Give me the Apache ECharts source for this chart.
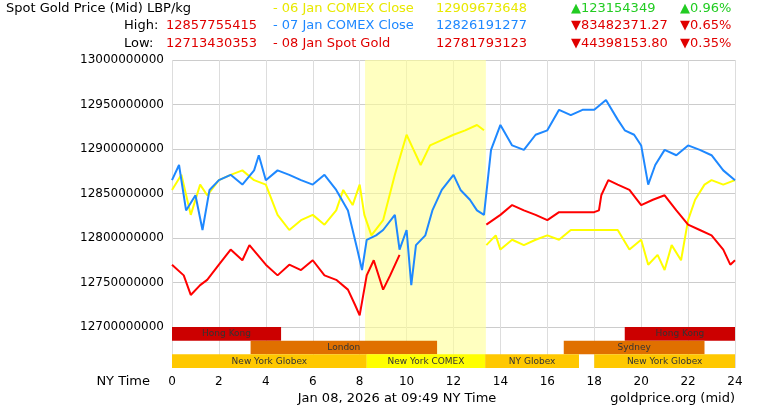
<!DOCTYPE html>
<html><head><meta charset="utf-8">
<script src="https://cdn.jsdelivr.net/npm/echarts@6/dist/echarts.min.js"></script>
<style>html,body{margin:0;padding:0;background:#fff}#c{width:770px;height:410px}</style>
</head><body><div id="c"></div>
<script>
const yTicks=[12700000000,12750000000,12800000000,12850000000,12900000000,12950000000,13000000000];
const xTicks=[0,2,4,6,8,10,12,14,16,18,20,22,24];
const yelT=[0,0.4,0.8,1.2,1.5,2,2.5,3,3.5,4,4.5,5,5.5,6,6.5,7,7.3,7.7,8,8.2,8.5,9,9.5,10,10.3,10.6,11,11.5,12,12.5,13,13.3,null,13.4,13.8,14,14.5,15,15.5,16,16.5,17,18,19,19.5,20,20.3,20.7,21,21.3,21.7,22,22.3,22.7,23,23.5,24];
const yelV=[12854,12871,12826,12860,12848,12865,12871,12876,12865,12860,12826,12809,12820,12826,12815,12831,12854,12837,12860,12826,12803,12820,12871,12916,12899,12882,12904,12910,12916,12921,12927,12921,null,12792,12803,12787,12798,12792,12798,12803,12798,12809,12809,12809,12787,12798,12770,12781,12764,12792,12775,12820,12843,12860,12865,12860,12865];
const bluT=[0,0.3,0.6,1,1.3,1.6,2,2.5,3,3.5,3.7,4,4.5,5,5.5,6,6.5,7,7.5,7.9,8.1,8.3,8.7,9,9.5,9.7,10,10.2,10.4,10.8,11.1,11.5,12,12.3,12.7,13,13.3,13.6,14,14.5,15,15.5,16,16.5,17,17.5,18,18.5,19,19.3,19.7,20,20.3,20.6,21,21.5,22,22.5,23,23.5,24];
const bluV=[12865,12882,12831,12848,12809,12854,12865,12871,12860,12876,12893,12865,12876,12871,12865,12860,12871,12854,12831,12787,12764,12798,12803,12809,12826,12787,12809,12747,12792,12803,12831,12854,12871,12854,12843,12831,12826,12899,12927,12904,12899,12916,12921,12944,12938,12944,12944,12955,12933,12921,12916,12904,12860,12882,12899,12893,12904,12899,12893,12876,12865];
const redT=[0,0.5,0.8,1.2,1.5,2,2.5,3,3.3,4,4.5,5,5.5,6,6.5,7,7.5,7.8,8,8.3,8.6,9,9.3,9.7,null,13.4,14,14.5,15,15.5,16,16.5,17,18,18.2,18.3,18.6,19,19.5,20,20.5,21,21.5,22,22.5,23,23.5,23.8,24];
const redV=[12770,12758,12736,12747,12753,12770,12787,12775,12792,12770,12758,12770,12764,12775,12758,12753,12742,12725,12713,12758,12775,12742,12758,12781,null,12815,12826,12837,12831,12826,12820,12829,12829,12829,12831,12848,12865,12860,12854,12837,12843,12848,12831,12815,12809,12803,12787,12770,12775];
const sessRows=['r3','r2','r1'];
const sessions=[
 {name:'Hong Kong',row:'r1',s:0,e:4.65,c:'#cc0000'},
 {name:'Hong Kong',row:'r1',s:19.3,e:24,c:'#cc0000'},
 {name:'London',row:'r2',s:3.35,e:11.3,c:'#e07000'},
 {name:'Sydney',row:'r2',s:16.7,e:22.7,c:'#e07000'},
 {name:'New York Globex',row:'r3',s:0,e:8.3,c:'#ffc800'},
 {name:'New York COMEX',row:'r3',s:8.3,e:13.35,c:'#ffff00'},
 {name:'NY Globex',row:'r3',s:13.35,e:17.35,c:'#ffc800'},
 {name:'New York Globex',row:'r3',s:18,e:24,c:'#ffc800'}];
const band=[8.23,13.38];
const zip=(t,v)=>t.map((x,i)=>x===null?'-':[x,v[i]*1e6]);
const F='DejaVu Sans';
const ch=echarts.init(document.getElementById('c'));
const txt=(x,y,s,c,al)=>({type:'text',x:x,y:y,style:{text:s,fill:c,font:'13px '+F,textAlign:al||'left',textVerticalAlign:'middle'}});
ch.setOption({
 animation:false,
 grid:[{left:172,right:35,top:60,height:267},{left:172,right:35,top:327,height:41}],
 xAxis:[{type:'value',min:0,max:24,interval:2,gridIndex:0,axisLabel:{show:false},axisTick:{show:false},axisLine:{show:false},splitLine:{lineStyle:{color:'#ddd'}}},
        {type:'value',min:0,max:24,interval:2,gridIndex:1,axisLabel:{color:'#000',fontFamily:F,fontSize:12,margin:8},axisTick:{show:false},axisLine:{show:false},splitLine:{lineStyle:{color:'#ddd'}}}],
 yAxis:[{type:'value',min:yTicks[0],max:yTicks[6],interval:50000000,gridIndex:0,axisLabel:{color:'#000',fontFamily:F,fontSize:12,margin:8,formatter:v=>String(v)},axisTick:{show:false},axisLine:{show:false},splitLine:{lineStyle:{color:'#ccc'}}},
        {type:'category',data:sessRows,gridIndex:1,show:false}],
 graphic:[txt(6,9,'Spot Gold Price (Mid) LBP/kg','#000'),
  txt(124,26,'High:','#000'),txt(166,26,'12857755415','#e00000'),
  txt(124,44,'Low:','#000'),txt(166,44,'12713430353','#e00000'),
  txt(273,9,'- 06 Jan COMEX Close','#e8e800'),txt(436,9,'12909673648','#e8e800'),txt(571,9,'▲123154349','#22cc22'),txt(680,9,'▲0.96%','#22cc22'),
  txt(273,26,'- 07 Jan COMEX Close','#1e88ff'),txt(436,26,'12826191277','#1e88ff'),txt(571,26,'▼83482371.27','#e00000'),txt(680,26,'▼0.65%','#e00000'),
  txt(273,44,'- 08 Jan Spot Gold','#e00000'),txt(436,44,'12781793123','#e00000'),txt(571,44,'▼44398153.80','#e00000'),txt(680,44,'▼0.35%','#e00000'),
  txt(150,382,'NY Time','#000','right'),
  txt(397,399,'Jan 08, 2026 at 09:49 NY Time','#000','center'),
  txt(735,399,'goldprice.org (mid)','#000','right')],
 series:[
  {type:'line',xAxisIndex:0,yAxisIndex:0,symbol:'none',data:[],markArea:{silent:true,itemStyle:{color:'rgba(255,255,150,0.6)'},data:[[{xAxis:band[0]},{xAxis:band[1]}]]}},
  {type:'custom',xAxisIndex:1,yAxisIndex:1,data:[[band[0],band[1]]],z:0,renderItem:(p,api)=>{const a=api.coord([api.value(0),0]),b=api.coord([api.value(1),0]);const cs=p.coordSys;return{type:'rect',shape:{x:a[0],y:cs.y,width:b[0]-a[0],height:cs.height},style:{fill:'rgba(255,255,150,0.6)'}};}},
  {type:'line',name:'y',data:zip(yelT,yelV),symbol:'none',connectNulls:false,lineStyle:{color:'#ffff00',width:2},z:3},
  {type:'line',name:'b',data:zip(bluT,bluV),symbol:'none',lineStyle:{color:'#1e88ff',width:2},z:4},
  {type:'line',name:'r',data:zip(redT,redV),symbol:'none',lineStyle:{color:'#ff0000',width:2},z:5},
  {type:'custom',xAxisIndex:1,yAxisIndex:1,z:5,data:sessions.map(s=>[s.s,s.e,sessRows.indexOf(s.row)]),
   renderItem:(p,api)=>{const d=sessions[p.dataIndex];const r=sessRows.indexOf(d.row);const a=api.coord([d.s,r]),b=api.coord([d.e,r]);const h=api.size([0,1])[1];
    return{type:'rect',shape:{x:a[0],y:a[1]-h/2,width:b[0]-a[0],height:h},style:{fill:d.c},textContent:{style:{text:d.name,fill:'#333',font:'9px '+F}},textConfig:{position:'inside'}};}}
 ]
});
</script></body></html>
